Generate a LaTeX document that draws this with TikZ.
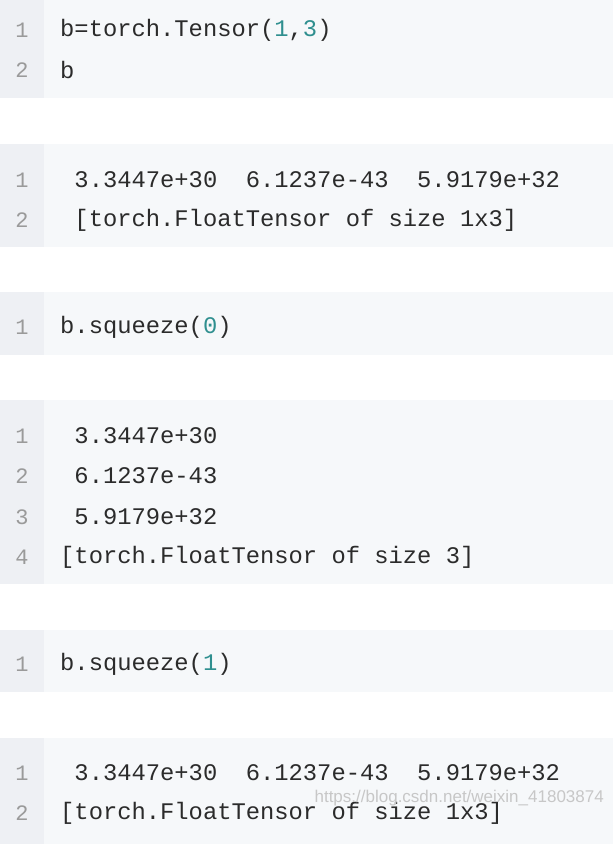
\documentclass[tikz,border=0pt]{standalone}
\usepackage{fontspec}
\setmonofont{Liberation Mono}
\setsansfont{Liberation Sans}
\definecolor{bg}{HTML}{F6F8FA}
\definecolor{gut}{HTML}{EEF0F4}
\definecolor{txt}{HTML}{2B2B2B}
\definecolor{lno}{HTML}{9A9A9A}
\definecolor{num}{HTML}{2F8F8F}
\newcommand{\sx}{\hphantom{0}}
\tikzset{
  blk/.style={fill=bg, draw=none},
  gtr/.style={fill=gut, draw=none},
  ln/.style={anchor=center, text=lno, font=\ttfamily\fontsize{22}{22}\selectfont, inner sep=0},
  code/.style={anchor=west, text=txt, font=\ttfamily\fontsize{23.8}{24}\selectfont, inner sep=0},
}
\begin{document}
\begin{tikzpicture}[x=1pt,y=-1pt]
\useasboundingbox (0,0) rectangle (613,844);
% blocks
\foreach \a/\b in {0/98,144/247,292/355,400/584,630/692,738/844}{
  \fill[bg] (0,\a) rectangle (613,\b);
  \fill[gut] (0,\a) rectangle (44,\b);
}
% block 1
\node[ln] (l11) at (22,30) {1};
\node[ln] (l12) at (22,70) {2};
\node[code] (c11) at (60,30) {b=torch.Tensor(\textcolor{num}{1},\textcolor{num}{3})};
\node[code] (c12) at (60,70) {b};
% block 2
\node[ln] (l21) at (22,180) {1};
\node[ln] (l22) at (22,220) {2};
\node[code] (c21) at (60,180) {\sx3.3447e+30\sx\sx6.1237e-43\sx\sx5.9179e+32};
\node[code] (c22) at (60,220) {\sx[torch.FloatTensor\sx{}of\sx{}size\sx1x3]};
% block 3
\node[ln] (l31) at (22,327) {1};
\node[code] (c31) at (60,327) {b.squeeze(\textcolor{num}{0})};
% block 4
\node[ln] (l41) at (22,436) {1};
\node[ln] (l42) at (22,476) {2};
\node[ln] (l43) at (22,517) {3};
\node[ln] (l44) at (22,557) {4};
\node[code] (c41) at (60,436) {\sx3.3447e+30};
\node[code] (c42) at (60,476) {\sx6.1237e-43};
\node[code] (c43) at (60,517) {\sx5.9179e+32};
\node[code] (c44) at (60,557) {[torch.FloatTensor\sx{}of\sx{}size\sx3]};
% block 5
\node[ln] (l51) at (22,664) {1};
\node[code] (c51) at (60,664) {b.squeeze(\textcolor{num}{1})};
% block 6
\node[ln] (l61) at (22,773) {1};
\node[ln] (l62) at (22,813) {2};
\node[code] (c61) at (60,773) {\sx3.3447e+30\sx\sx6.1237e-43\sx\sx5.9179e+32};
\node[code] (c62) at (60,813) {[torch.FloatTensor\sx{}of\sx{}size\sx1x3]};
% watermark
\node[anchor=east, inner sep=0, text=black!22, font=\sffamily\fontsize{17}{17}\selectfont] (wm) at (604,798) {https://blog.csdn.net/weixin\_41803874};
\end{tikzpicture}
\end{document}
